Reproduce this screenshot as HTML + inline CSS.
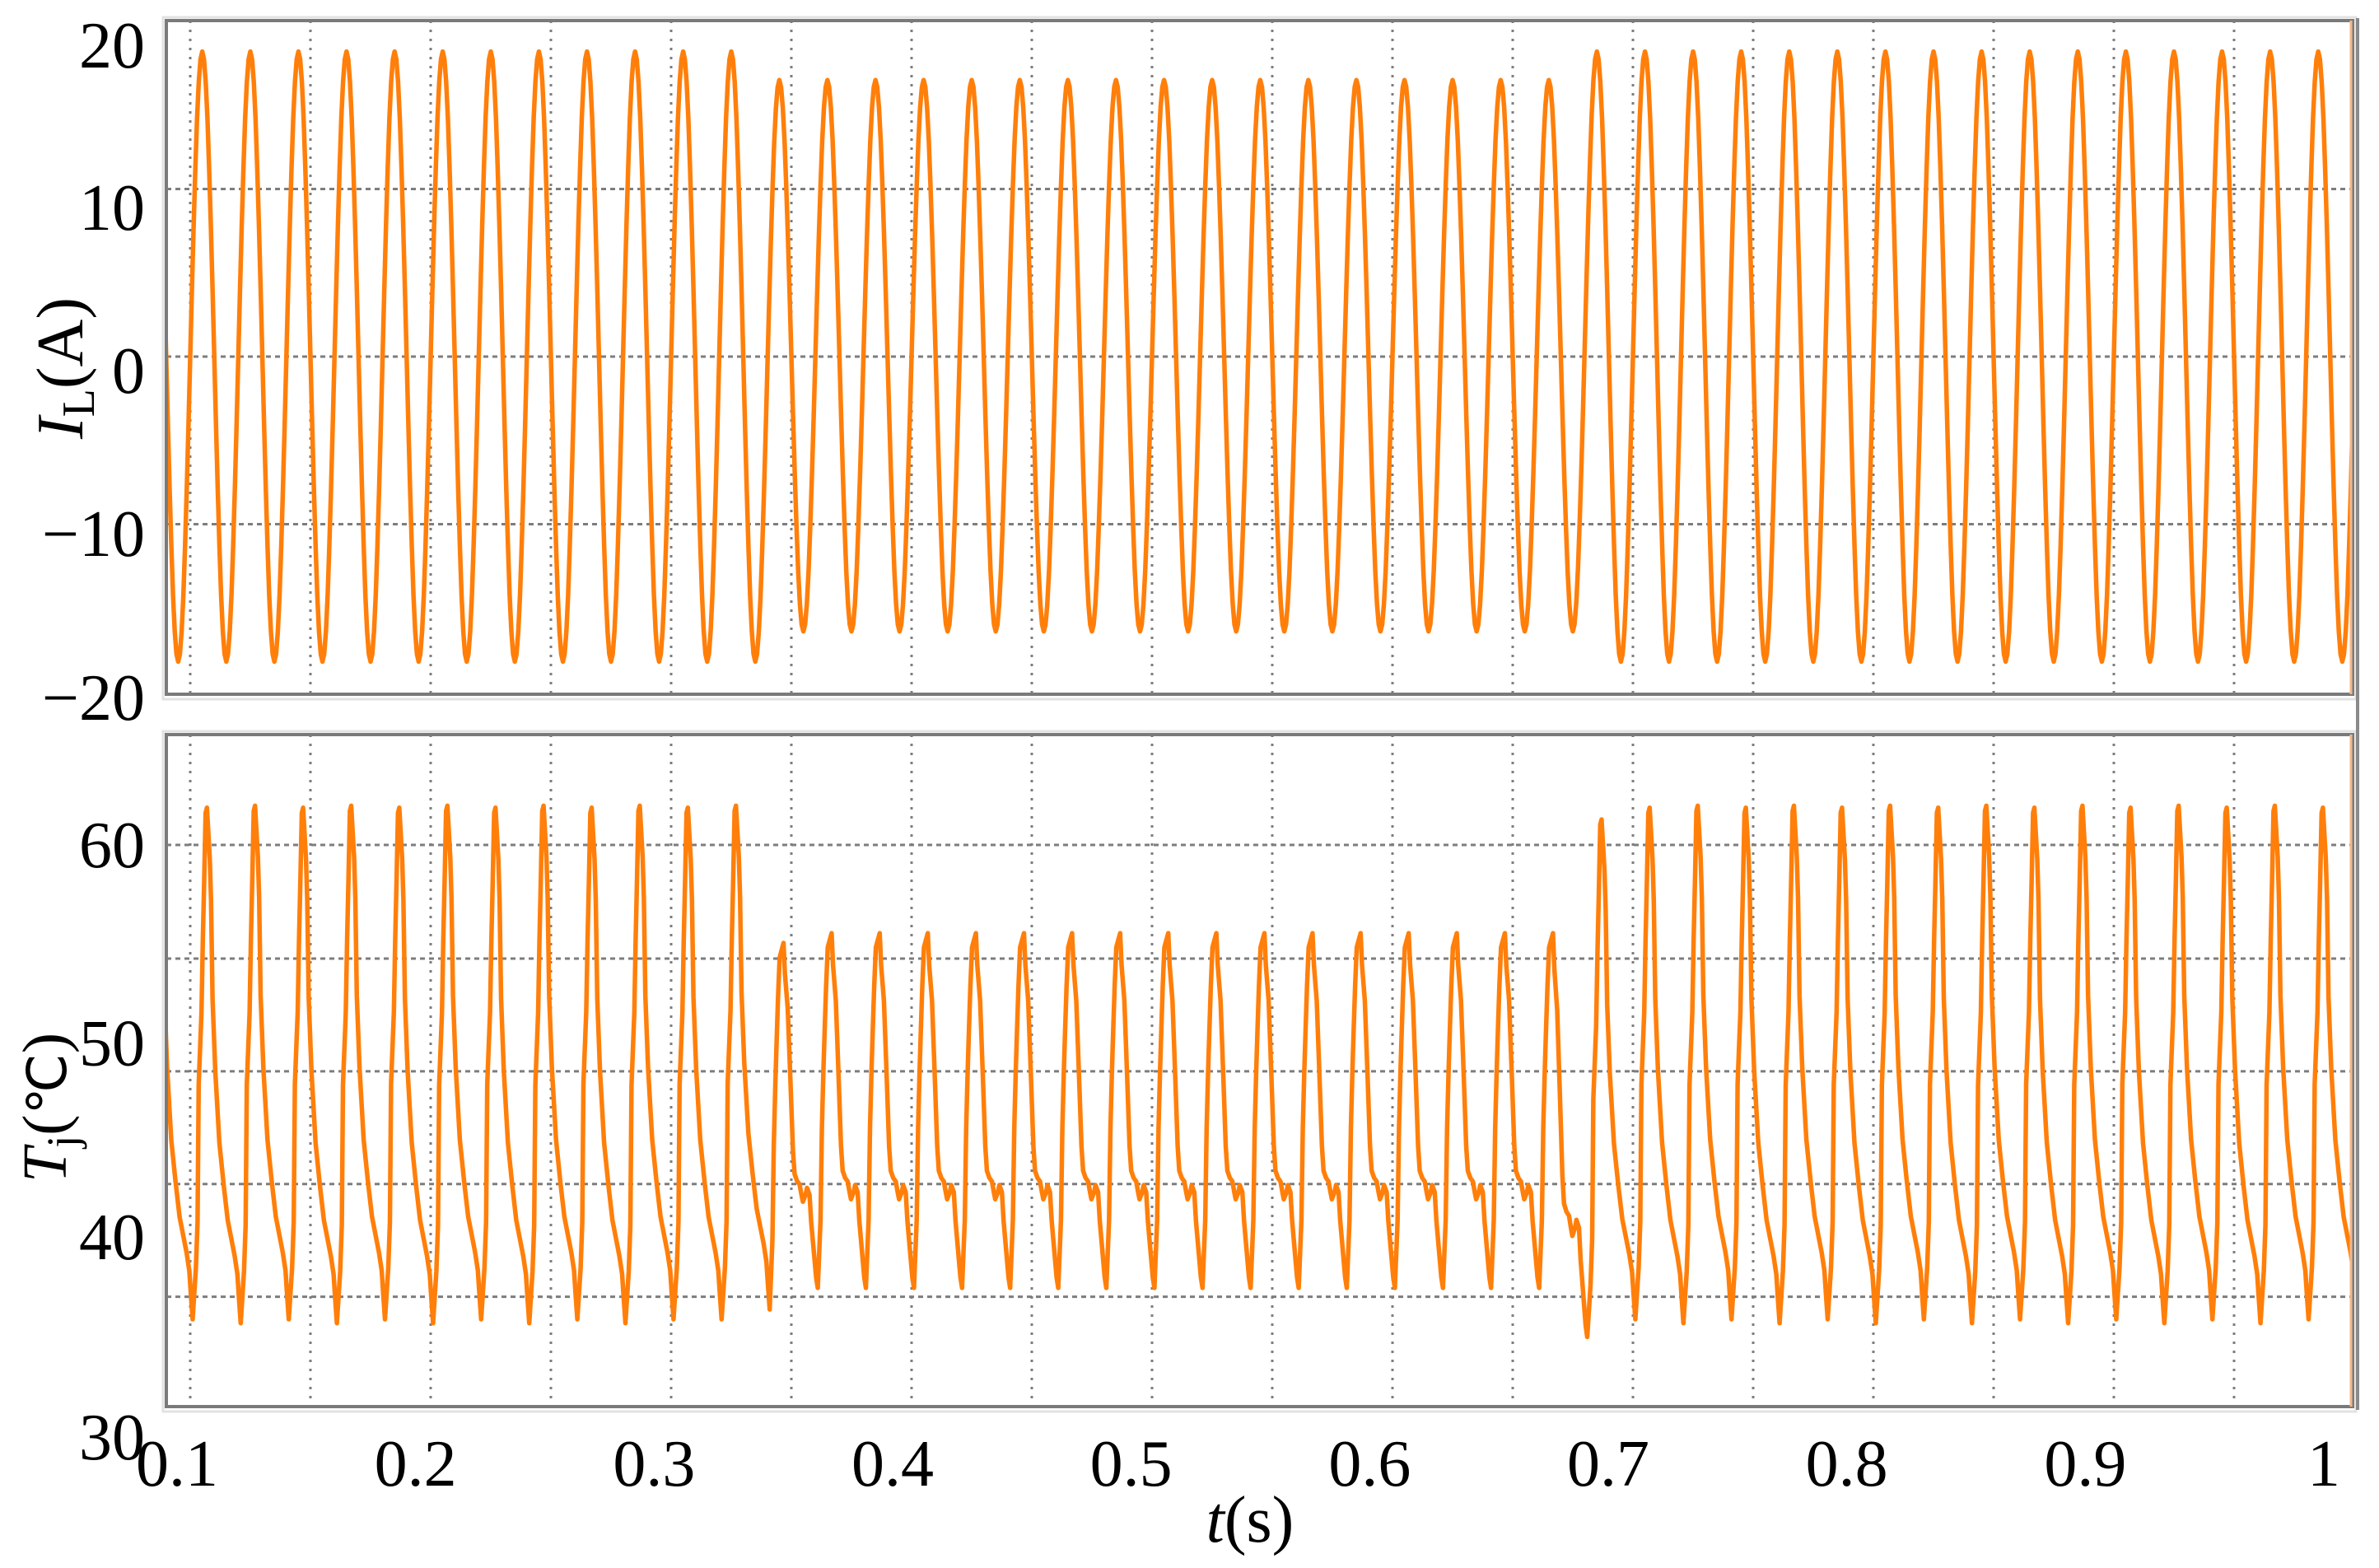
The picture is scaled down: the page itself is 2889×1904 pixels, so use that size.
<!DOCTYPE html>
<html><head><meta charset="utf-8"><style>
html,body{margin:0;padding:0;background:#fff;}
svg{display:block;}
text{font-family:"Liberation Serif",serif;fill:#000;}
</style></head><body>
<svg id="chart" width="2889" height="1904" viewBox="0 0 2889 1904" xmlns="http://www.w3.org/2000/svg">
<defs>
<clipPath id="clipTop"><rect x="202" y="25" width="2655" height="818"/></clipPath>
<clipPath id="clipBot"><rect x="202" y="892" width="2655" height="816"/></clipPath>
</defs>
<g id="grid"></g>
<g id="series"></g>
<g id="frames"></g>
<g id="labels"></g>
<text transform="translate(100,447) rotate(-90)" text-anchor="middle" font-size="80"><tspan font-style="italic">I</tspan><tspan font-size="56" dy="14">L</tspan><tspan dy="-14">(A)</tspan></text>
<text transform="translate(80,1345) rotate(-90)" text-anchor="middle" font-size="76"><tspan font-style="italic">T</tspan><tspan font-size="54" dy="14">j</tspan><tspan dy="-14">(</tspan><tspan font-size="66">℃</tspan>)</text>
<text x="1518" y="1872" text-anchor="middle" font-size="80"><tspan font-style="italic">t</tspan>(s)</text>
</svg>
<script>
// ---- data ----
const xTicks = [0.1,0.2,0.3,0.4,0.5,0.6,0.7,0.8,0.9,1];
const xTickLabels = ["0.1","0.2","0.3","0.4","0.5","0.6","0.7","0.8","0.9","1"];
const xGridVals = [0.1,0.15,0.2,0.25,0.3,0.35,0.4,0.45,0.5,0.55,0.6,0.65,0.7,0.75,0.8,0.85,0.9,0.95];
const currentTicks = [20,10,0,-10,-20];
const currentTickLabels = ["20","10","0","\u221210","\u221220"];
const currentGridVals = [10,0,-10];
const tempTickLabels = ["60","50","40","30"];
const tempTickVals = [60,49.9,40,29.8];
const tempGridVals = [60,54.2,48.45,42.7,36.95];

// current: peaks at 0.085+0.02j, troughs at 0.095+0.02j
const currentPeakStart = 0.085, currentTroughStart = 0.095, halfPeriod = 0.01;
const currentPeaks = [18.2,18.2,18.2,18.2,18.2,18.2,18.2,18.2,18.2,18.2,18.2,18.2,18.2,
  16.5,16.5,16.5,16.5,16.5,16.5,16.5,16.5,16.5,16.5,16.5,16.5,16.5,16.5,16.5,16.5,16.5,
  18.2,18.2,18.2,18.2,18.2,18.2,18.2,18.2,18.2,18.2,18.2,18.2,18.2,18.2,18.2,18.2,18.2];
const currentTroughs = [-18.2,-18.2,-18.2,-18.2,-18.2,-18.2,-18.2,-18.2,-18.2,-18.2,-18.2,-18.2,-18.2,
  -16.4,-16.4,-16.4,-16.4,-16.4,-16.4,-16.4,-16.4,-16.4,-16.4,-16.4,-16.4,-16.4,-16.4,-16.4,-16.4,-16.4,
  -18.2,-18.2,-18.2,-18.2,-18.2,-18.2,-18.2,-18.2,-18.2,-18.2,-18.2,-18.2,-18.2,-18.2,-18.2,-18.2];

// temperature: cycles start at trough 0.081+0.02i (i=0 -> k=-1)
const tempCycleStart = 0.081, tempPeriod = 0.02;
const tempTroughs = [36,35.8,35.6,35.8,35.6,35.8,35.6,35.8,35.6,35.8,35.6,35.8,35.8,36.3,
  37.4,37.4,37.4,37.4,37.4,37.4,37.4,37.4,37.4,37.4,37.4,37.4,37.4,37.4,37.4,37.4,
  34.9,35.8,35.6,35.8,35.6,35.8,35.6,35.8,35.6,35.8,35.6,35.8,35.6,35.8,35.6,35.8,35.8];
const tempPeaks = [61.9,61.9,62,61.9,62,61.9,62,61.9,62,61.9,62,61.9,62,
  55.0,55.5,55.5,55.5,55.5,55.5,55.5,55.5,55.5,55.5,55.5,55.5,55.5,55.5,55.5,55.5,55.5,
  61.3,61.9,62,61.9,62,61.9,62,61.9,62,61.9,62,61.9,62,61.9,62,61.9];
const tempModes = ["F","F","F","F","F","F","F","F","F","F","F","F","F",
  "R","R","R","R","R","R","R","R","R","R","R","R","R","R","R","R","R",
  "F","F","F","F","F","F","F","F","F","F","F","F","F","F","F","F"];
// cycle shape templates (phase fraction, normalized level)
const fullRisePhase = [0,0.069,0.103,0.126,0.184,0.212,0.241,0.271,0.298];
const fullRiseLevel = [0,0.10,0.19,0.46,0.60,0.74,0.86,0.99,1];
const fullDecayPhase = [0.298,0.357,0.384,0.414,0.471,0.557,0.643,0.729,0.874,0.931,0.966,1];
const fullDecayLevel = [1,0.90,0.82,0.63,0.49,0.35,0.27,0.20,0.13,0.095,0.046,0];
const redRisePhase = [0,0.057,0.086,0.116,0.143,0.172,0.207,0.288];
const redRiseLevel = [0,0.19,0.45,0.61,0.73,0.85,0.96,1];
const redDecayPhase = [0.288,0.316,0.374,0.431,0.483,0.517,0.569,0.621,0.660,0.690,0.747,0.776,0.828,0.862,0.914,0.966,1];
const redDecayLevel = [1,0.91,0.81,0.60,0.40,0.33,0.31,0.30,0.27,0.25,0.27,0.29,0.27,0.19,0.11,0.03,0];

// ---- scales ----
const X0 = 231, XPX = 2920;
function xS(t){ return X0 + (t-0.1)*XPX; }
function yI(v){ return 433 - v*20.35; }
function yT(v){ return 1026 + (60-v)*23.8; }

const NS = "http://www.w3.org/2000/svg";
function mk(tag, attrs, parent){
  const e = document.createElementNS(NS, tag);
  for (const k in attrs) e.setAttribute(k, attrs[k]);
  parent.appendChild(e); return e;
}
const grid = document.getElementById('grid');
const series = document.getElementById('series');
const frames = document.getElementById('frames');
const labels = document.getElementById('labels');

// gridlines
xGridVals.forEach(v=>{
  [[25,843],[892,1708]].forEach(r=>{
    const l = mk('line',{x1:xS(v),x2:xS(v),y1:r[0],y2:r[1],stroke:'#7d7d7d','stroke-width':3,'stroke-dasharray':'3,8'},grid);
    
    
  });
});
currentGridVals.forEach(v=>{
  const l = mk('line',{x1:202,x2:2857,y1:yI(v),y2:yI(v),stroke:'#7d7d7d','stroke-width':3,'stroke-dasharray':'6,5'},grid);
  
  
});
tempGridVals.forEach(v=>{
  const l = mk('line',{x1:202,x2:2857,y1:yT(v),y2:yT(v),stroke:'#7d7d7d','stroke-width':3,'stroke-dasharray':'6,5'},grid);
  
  
});

// current series
(function(){
  const ext = [];
  for (let j=0;j<currentPeaks.length;j++){
    ext.push([currentPeakStart+2*halfPeriod*j, currentPeaks[j]]);
    if (j<currentTroughs.length) ext.push([currentTroughStart+2*halfPeriod*j, currentTroughs[j]]);
  }
  ext.sort((a,b)=>a[0]-b[0]);
  let d = '';
  for (let i=0;i<ext.length-1;i++){
    const [ta,a] = ext[i], [tb,b] = ext[i+1];
    const n = 14;
    for (let s=(i===0?0:1); s<=n; s++){
      const t = ta + (tb-ta)*s/n;
      const v = (a+b)/2 + (a-b)/2*Math.cos(Math.PI*s/n);
      d += (d?'L':'M') + xS(t).toFixed(1) + ',' + yI(v).toFixed(1);
    }
  }
  const p = mk('path',{d:d,fill:'none',stroke:'#ff7f0a','stroke-width':5.5,'stroke-linejoin':'round','clip-path':'url(#clipTop)'},series);
  
  
})();

// temperature series
(function(){
  let d = '';
  for (let i=0;i<tempPeaks.length;i++){
    const t0 = tempCycleStart + tempPeriod*i;
    const lo = tempTroughs[i], hi = tempPeaks[i], nxt = tempTroughs[i+1];
    const F = tempModes[i]==='F';
    const rp = F?fullRisePhase:redRisePhase, rl = F?fullRiseLevel:redRiseLevel;
    const dp = F?fullDecayPhase:redDecayPhase, dl = F?fullDecayLevel:redDecayLevel;
    for (let s=(i===0?0:1); s<rp.length; s++){
      const v = lo + rl[s]*(hi-lo);
      d += (d?'L':'M') + xS(t0+rp[s]*tempPeriod).toFixed(1) + ',' + yT(v).toFixed(1);
    }
    for (let s=1; s<dp.length; s++){
      const v = nxt + dl[s]*(hi-nxt);
      d += 'L' + xS(t0+dp[s]*tempPeriod).toFixed(1) + ',' + yT(v).toFixed(1);
    }
  }
  const p = mk('path',{d:d,fill:'none',stroke:'#ff7f0a','stroke-width':5.5,'stroke-linejoin':'round','clip-path':'url(#clipBot)'},series);
  
  
})();

// frames
[[25,843,'current-plot-frame'],[892,1708,'temperature-plot-frame']].forEach(r=>{
  const o = mk('rect',{x:198,y:r[0]-4,width:2663,height:r[1]-r[0]+10,fill:'none',stroke:'#e2e2e2','stroke-width':3},frames);
  
  
  const f = mk('rect',{x:202,y:r[0],width:2655,height:r[1]-r[0],fill:'none',stroke:'#7a7a7a','stroke-width':4},frames);
  
  
  const e = mk('line',{x1:2855,x2:2855,y1:r[0],y2:r[1],stroke:'#f5b88a','stroke-width':3},frames);
  
  
});
const outer = mk('line',{x1:2863,x2:2863,y1:22,y2:1712,stroke:'#8a8a8a','stroke-width':4},frames);



// tick labels
const curLabelY = [55,252,450,648,847];
currentTicks.forEach((v,i)=>{
  const t = mk('text',{x:176,y:curLabelY[i]+27,'text-anchor':'end','font-size':80},labels);
  t.textContent = currentTickLabels[i];
  
  
});
tempTickVals.forEach((v,i)=>{
  const t = mk('text',{x:176,y:yT(v)+27,'text-anchor':'end','font-size':80},labels);
  t.textContent = tempTickLabels[i];
  
  
});
xTicks.forEach((v,i)=>{
  const t = mk('text',{x:xS(v)-16-7*(v-0.1)*10/3,y:1804,'text-anchor':'middle','font-size':80},labels);
  t.textContent = xTickLabels[i];
  
  
});
</script>
</body></html>
